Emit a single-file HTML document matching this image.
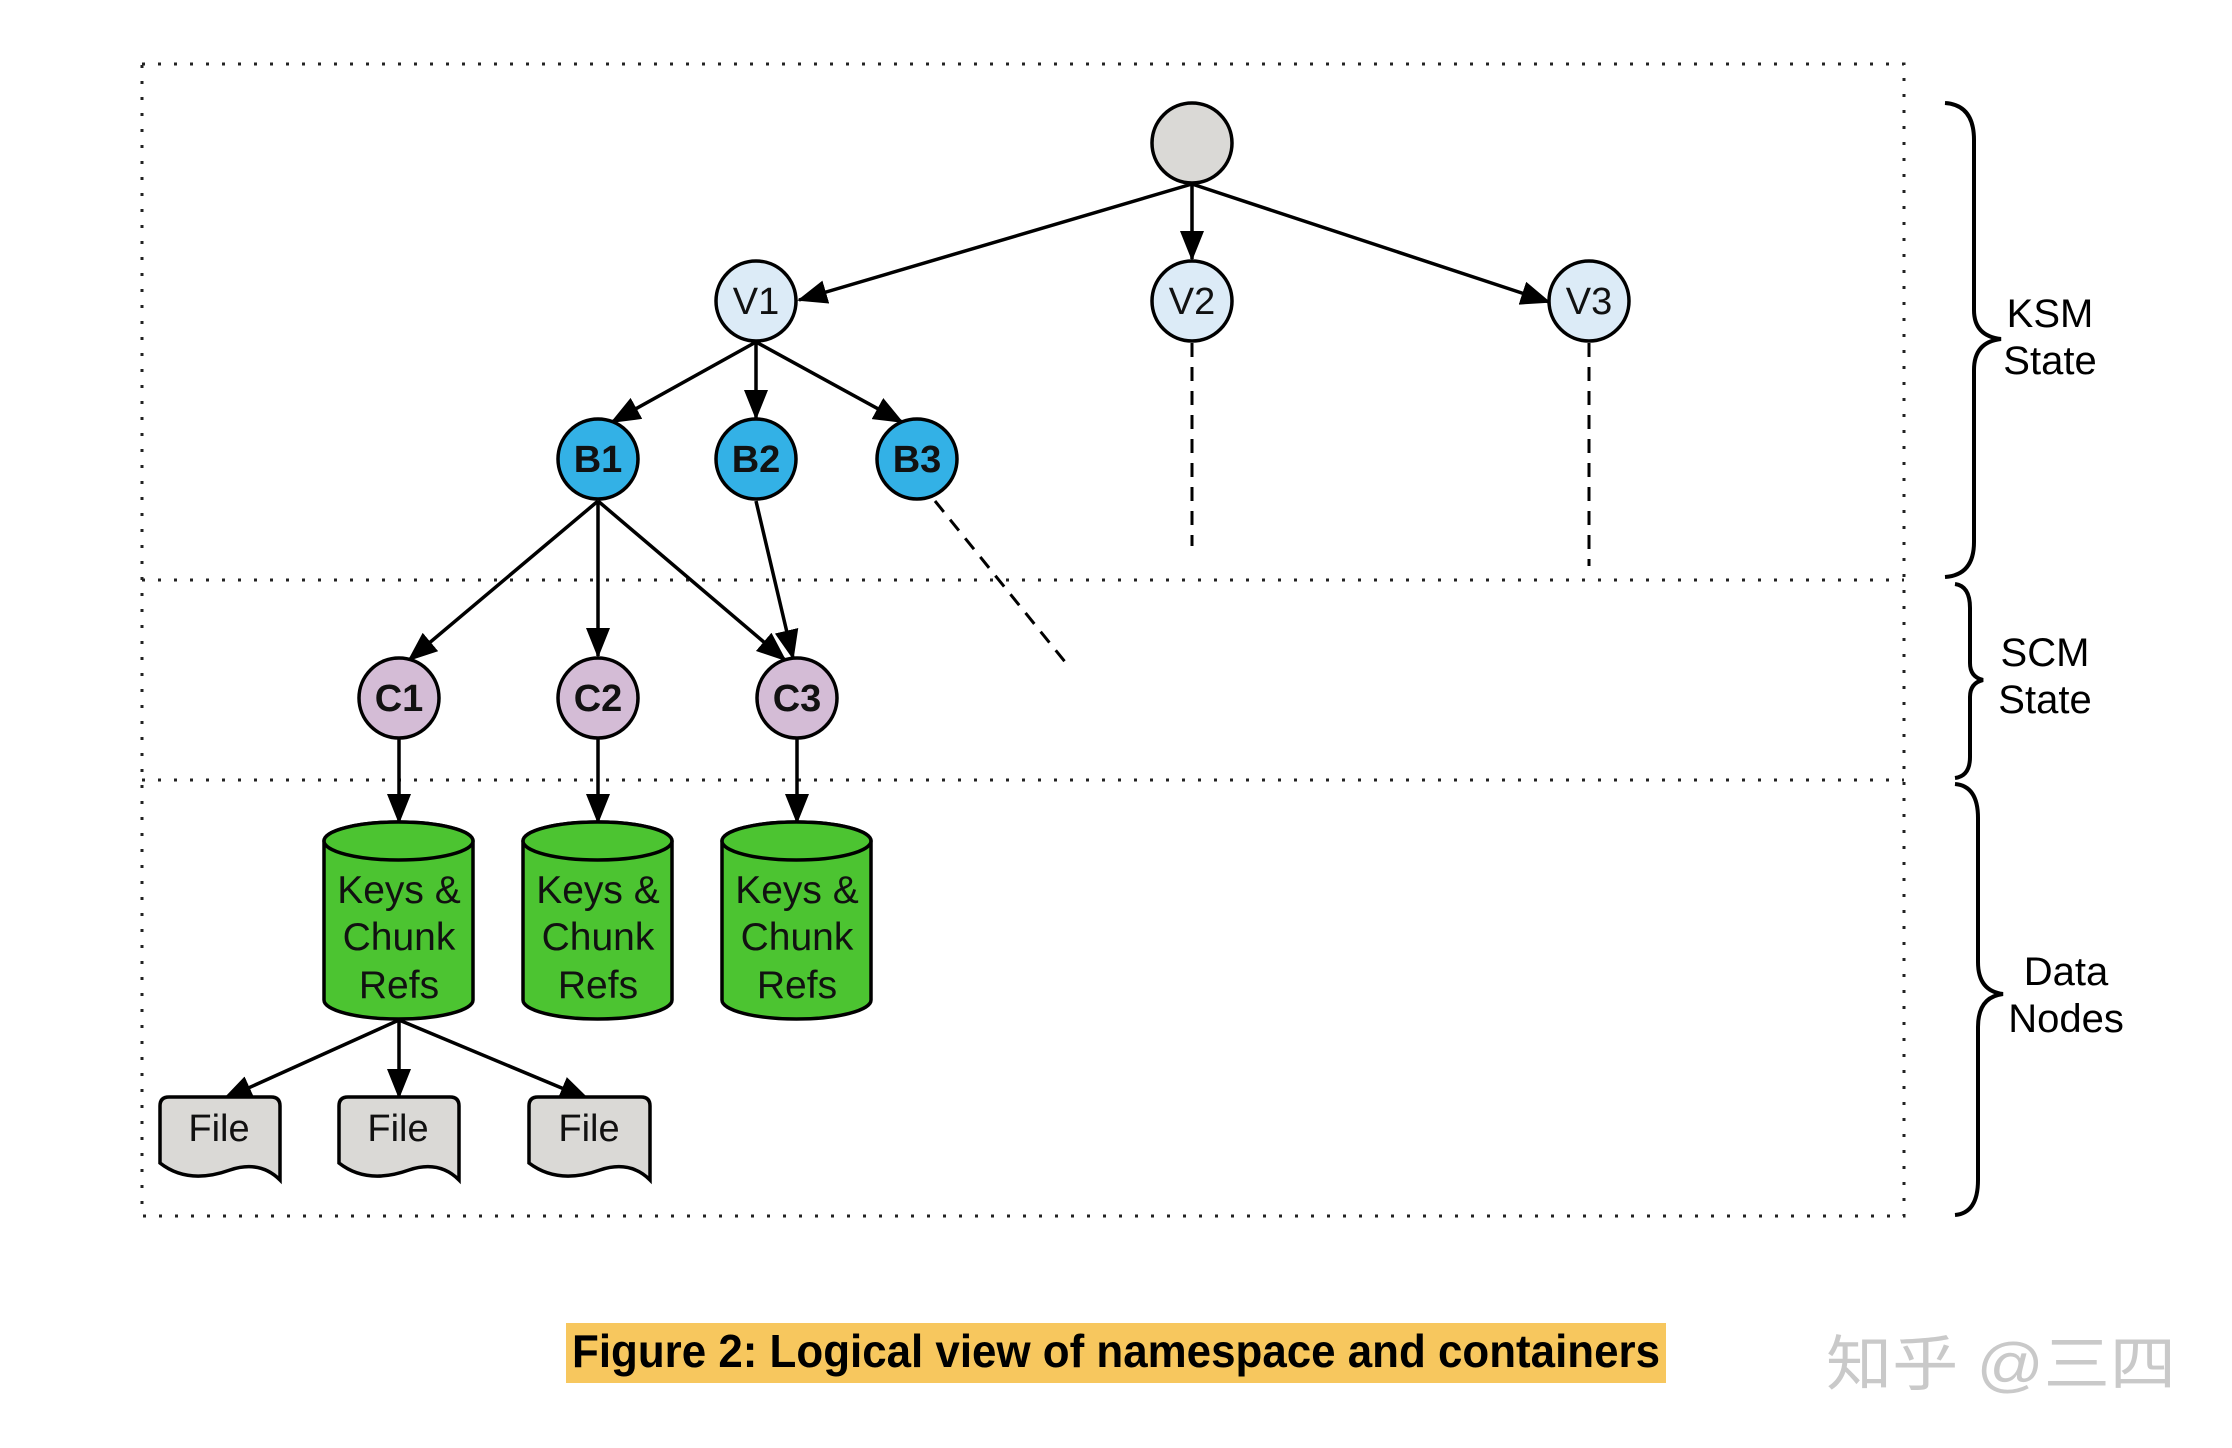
<!DOCTYPE html>
<html><head><meta charset="utf-8"><style>
html,body{margin:0;padding:0;background:#fff;}
svg{display:block;}
text{font-family:"Liberation Sans",sans-serif;}
</style></head><body>
<svg width="2232" height="1448" viewBox="0 0 2232 1448" xmlns="http://www.w3.org/2000/svg">
<defs>
<marker id="ar" viewBox="0 0 30 24" refX="28" refY="12" markerWidth="30" markerHeight="24" orient="auto" markerUnits="userSpaceOnUse">
<path d="M0,0 L30,12 L0,24 z" fill="#000"/>
</marker>
</defs>
<g stroke="#222" stroke-width="3" stroke-dasharray="3 13" fill="none">
<rect x="142" y="64" width="1762" height="1152"/>
<line x1="142" y1="580" x2="1904" y2="580"/>
<line x1="142" y1="780" x2="1904" y2="780"/>
</g>
<g stroke="#000" stroke-width="4" fill="none">
<path d="M1945,103 Q1974,105 1974,140 L1974,310 Q1974,336 2001,339 Q1974,342 1974,370 L1974,542 Q1974,575 1945,577"/>
<path d="M1955,584 Q1970,586 1970,608 L1970,663 Q1970,677 1983,680 Q1970,683 1970,697 L1970,757 Q1970,776 1955,778"/>
<path d="M1955,784 Q1978,786 1978,818 L1978,962 Q1978,991 2003,994 Q1978,997 1978,1027 L1978,1180 Q1978,1213 1955,1215"/>
</g>
<g font-size="40" fill="#000" text-anchor="middle">
<text x="2050" y="327">KSM</text><text x="2050" y="374">State</text>
<text x="2045" y="666">SCM</text><text x="2045" y="713">State</text>
<text x="2066" y="985">Data</text><text x="2066" y="1032">Nodes</text>
</g>
<g stroke="#000" stroke-width="3" stroke-dasharray="14 10" fill="none">
<line x1="1192" y1="343" x2="1192" y2="546"/>
<line x1="1589" y1="343" x2="1589" y2="566"/>
<line x1="935" y1="501" x2="1070" y2="668"/>
</g>
<g stroke="#000" stroke-width="3.5" fill="none" marker-end="url(#ar)">
<line x1="1192" y1="184" x2="799" y2="300"/>
<line x1="1192" y1="184" x2="1192" y2="259"/>
<line x1="1192" y1="184" x2="1549" y2="302"/>
<line x1="756" y1="342" x2="612" y2="422"/>
<line x1="756" y1="342" x2="756" y2="418"/>
<line x1="756" y1="342" x2="902" y2="422"/>
<line x1="598" y1="501" x2="409" y2="660"/>
<line x1="598" y1="501" x2="598" y2="656"/>
<line x1="598" y1="501" x2="785" y2="660"/>
<line x1="756" y1="501" x2="793" y2="658"/>
<line x1="399" y1="739" x2="399" y2="822"/>
<line x1="598" y1="739" x2="598" y2="822"/>
<line x1="797" y1="739" x2="797" y2="822"/>
<line x1="399" y1="1020" x2="224" y2="1099"/>
<line x1="399" y1="1020" x2="399" y2="1097"/>
<line x1="399" y1="1020" x2="588" y2="1099"/>
</g>
<g stroke="#000" stroke-width="3.5">
<circle cx="1192" cy="143" r="40" fill="#dad9d6"/>
<circle cx="756" cy="301" r="40" fill="#dcebf7"/>
<circle cx="1192" cy="301" r="40" fill="#dcebf7"/>
<circle cx="1589" cy="301" r="40" fill="#dcebf7"/>
<circle cx="598" cy="459" r="40" fill="#33b1e6"/>
<circle cx="756" cy="459" r="40" fill="#33b1e6"/>
<circle cx="917" cy="459" r="40" fill="#33b1e6"/>
<circle cx="399" cy="698" r="40" fill="#d4bcd6"/>
<circle cx="598" cy="698" r="40" fill="#d4bcd6"/>
<circle cx="797" cy="698" r="40" fill="#d4bcd6"/>
</g>
<g font-size="38" text-anchor="middle" fill="#111">
<text x="756" y="314">V1</text><text x="1192" y="314">V2</text><text x="1589" y="314">V3</text>
</g>
<g font-size="38" font-weight="bold" text-anchor="middle" fill="#111">
<text x="598" y="472">B1</text><text x="756" y="472">B2</text><text x="917" y="472">B3</text>
<text x="399" y="711">C1</text><text x="598" y="711">C2</text><text x="797" y="711">C3</text>
</g>
<g stroke="#000" stroke-width="3.5" fill="#4cc431">
<path d="M324,841 L324,1000 A74.5,19 0 0 0 473,1000 L473,841 A74.5,19 0 0 0 324,841 Z"/>
<ellipse cx="398.5" cy="841" rx="74.5" ry="19"/>
<path d="M523,841 L523,1000 A74.5,19 0 0 0 672,1000 L672,841 A74.5,19 0 0 0 523,841 Z"/>
<ellipse cx="597.5" cy="841" rx="74.5" ry="19"/>
<path d="M722,841 L722,1000 A74.5,19 0 0 0 871,1000 L871,841 A74.5,19 0 0 0 722,841 Z"/>
<ellipse cx="796.5" cy="841" rx="74.5" ry="19"/>
</g>
<g font-size="39" text-anchor="middle" fill="#111">
<text x="399" y="903">Keys &amp;</text><text x="399" y="950">Chunk</text><text x="399" y="998">Refs</text>
<text x="598" y="903">Keys &amp;</text><text x="598" y="950">Chunk</text><text x="598" y="998">Refs</text>
<text x="797" y="903">Keys &amp;</text><text x="797" y="950">Chunk</text><text x="797" y="998">Refs</text>
</g>
<g stroke="#000" stroke-width="3.5" fill="#dad9d6">
<path d="M160,1106 Q160,1097 169,1097 L271,1097 Q280,1097 280,1106 L280,1180 Q260,1160 230,1170 Q188,1185 160,1163 Z"/>
<path d="M339,1106 Q339,1097 348,1097 L450,1097 Q459,1097 459,1106 L459,1180 Q439,1160 409,1170 Q367,1185 339,1163 Z"/>
<path d="M529,1106 Q529,1097 538,1097 L641,1097 Q650,1097 650,1106 L650,1180 Q630,1160 600,1170 Q558,1185 529,1163 Z"/>
</g>
<g font-size="38" text-anchor="middle" fill="#111">
<text x="219" y="1141">File</text><text x="398" y="1141">File</text><text x="589" y="1141">File</text>
</g>
<rect x="566" y="1323" width="1100" height="60" fill="#f7c75e"/>
<text x="572" y="1367" font-size="46" font-weight="bold" textLength="1088" lengthAdjust="spacingAndGlyphs" style="font-family:'Liberation Sans Narrow','Liberation Sans',sans-serif">Figure 2: Logical view of namespace and containers</text>
<text x="1826" y="1385" font-size="60" fill="#c9c9c9" textLength="350" lengthAdjust="spacingAndGlyphs" style="font-family:'Liberation Sans','Noto Sans CJK SC',sans-serif">知乎 @三四</text>
</svg>
</body></html>
